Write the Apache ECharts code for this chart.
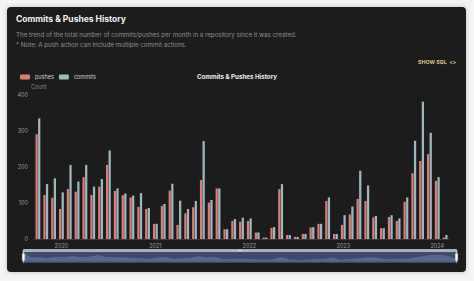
<!DOCTYPE html>
<html>
<head>
<meta charset="utf-8">
<script src="https://cdn.jsdelivr.net/npm/echarts@6/dist/echarts.min.js"></script>
<style>
html,body{margin:0;padding:0;background:#f4f4f5;}
#c{width:474px;height:281px;}
</style>
</head>
<body>
<div id="c"></div>
<script>
var months = ['2019-10','2019-11','2019-12',
'2020-01','2020-02','2020-03','2020-04','2020-05','2020-06','2020-07','2020-08','2020-09','2020-10','2020-11','2020-12',
'2021-01','2021-02','2021-03','2021-04','2021-05','2021-06','2021-07','2021-08','2021-09','2021-10','2021-11','2021-12',
'2022-01','2022-02','2022-03','2022-04','2022-05','2022-06','2022-07','2022-08','2022-09','2022-10','2022-11','2022-12',
'2023-01','2023-02','2023-03','2023-04','2023-05','2023-06','2023-07','2023-08','2023-09','2023-10','2023-11','2023-12',
'2024-01','2024-02'];
var pushes = [290,122,114,83,138,131,171,122,145,205,133,121,115,89,83,42,92,134,39,71,88,163,101,140,27,50,48,50,18,4,31,138,11,6,14,32,42,105,14,39,68,111,105,60,30,61,50,103,182,216,235,161,4];
var commits = [334,152,168,129,205,159,205,145,166,245,140,126,120,127,86,42,97,153,106,83,105,271,108,140,27,55,59,57,18,4,33,152,11,6,14,33,42,115,14,66,90,189,148,64,30,66,57,115,272,380,294,171,11];
var yTicks = [0,100,200,300,400];

var chart = echarts.init(document.getElementById('c'), null, {renderer:'svg'});
var font = 'Inter, "Noto Sans", sans-serif';
chart.setOption({
  textStyle:{fontFamily:font},
  graphic:[
    {type:'rect', z:-10, shape:{x:7,y:7,width:459,height:265,r:4},
     style:{fill:'#1c1c1e', shadowBlur:4, shadowColor:'rgba(0,0,0,0.25)'}},
    {type:'text', left:16, top:14, style:{text:'Commits & Pushes History', fill:'#f2f2f2', font:'bold 8.5px '+font}},
    {type:'text', left:16, top:31, style:{text:'The trend of the total number of commits/pushes per month in a repository since it was created.', fill:'#8e8e93', font:'6.2px '+font}},
    {type:'text', left:16, top:41, style:{text:'* Note: A push action can include multiple commit actions.', fill:'#8e8e93', font:'6.2px '+font}},
    {type:'text', left:418, top:59, style:{text:'SHOW SQL  <>', fill:'#d8c68c', font:'bold 5.3px '+font}}
  ],
  title:{text:'Commits & Pushes History', left:'center', top:73, padding:0,
    textStyle:{color:'#eeeeee', fontSize:6.2, fontWeight:'bold', fontFamily:font}},
  legend:{left:20, top:74, itemWidth:10, itemHeight:5, itemGap:5, padding:0,
    icon:'roundRect',
    textStyle:{color:'#cfcfcf', fontSize:5.5, fontFamily:font}},
  grid:{left:34, right:25, top:94.5, bottom:42},
  xAxis:{type:'category', data:months,
    axisLine:{show:true, lineStyle:{color:'#3a3a3c'}},
    axisTick:{show:false},
    axisLabel:{color:'#9a9a9a', fontSize:5.5, margin:4,
      interval:function(i,v){return v.slice(5)==='01';},
      formatter:function(v){return v.slice(0,4);}}},
  yAxis:{type:'value', min:0, max:400, interval:100, name:'Count', nameGap:5,
    nameTextStyle:{color:'#8e8e93', fontSize:5.5, align:'left', padding:[0,0,0,-3]},
    axisLabel:{color:'#9a9a9a', fontSize:5.5, margin:6},
    splitLine:{show:false}, axisLine:{show:false}, axisTick:{show:false}},
  dataZoom:[{type:'slider', left:20, right:19, top:249, height:11,
    moveHandleSize:3, showDetail:false,
    borderColor:'#4a5570', backgroundColor:'#2c3550',
    fillerColor:'rgba(120,140,190,0.25)',
    handleStyle:{color:'#ffffff', borderColor:'#cccccc'},
    handleSize:'100%',
    moveHandleStyle:{color:'#a9b0bf', opacity:1},
    dataBackground:{lineStyle:{color:'#6677a0', opacity:0.6}, areaStyle:{color:'#5a6a92', opacity:0.6}},
    selectedDataBackground:{lineStyle:{color:'#6677a0', opacity:0.8}, areaStyle:{color:'#5a6a92', opacity:0.7}},
    emphasis:{handleStyle:{borderColor:'#ccc'}, moveHandleStyle:{color:'#a9b0bf'}}
  }],
  series:[
    {name:'pushes', type:'bar', data:pushes, barGap:'15%', barCategoryGap:'38%',
     itemStyle:{color:'#dc7d76'}},
    {name:'commits', type:'bar', data:commits,
     itemStyle:{color:'#9fb7c0'}}
  ]
});
</script>
</body>
</html>
